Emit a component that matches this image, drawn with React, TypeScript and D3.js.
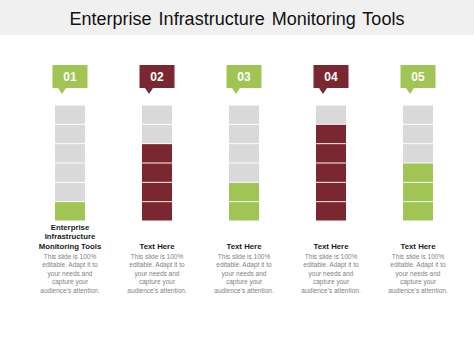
import React from "react";
import * as d3 from "d3";

const TITLE = "Enterprise Infrastructure Monitoring Tools";
const categories = ["01", "02", "03", "04", "05"];
const filledSegments = [1, 4, 2, 5, 3];
const totalSegments = 6;
const colorKeys = ["green", "maroon", "green", "maroon", "green"];
const headings = [
  ["Enterprise", "Infrastructure", "Monitoring Tools"],
  ["Text Here"],
  ["Text Here"],
  ["Text Here"],
  ["Text Here"],
];
const bodyLines = [
  "This slide is 100%",
  "editable.  Adapt it to",
  "your needs and",
  "capture your",
  "audience's attention.",
];

const palette: Record<string, string> = {
  green: "#a0c555",
  maroon: "#7a2731",
};
const EMPTY = "#d9d9d9";
const FONT = "'Liberation Sans', Arial, Helvetica, sans-serif";

const W = 474;
const H = 355;

export default function App() {
  const x = d3.scalePoint<string>().domain(categories).range([70, 418]);
  const segIdx = d3.range(totalSegments);
  const y = d3
    .scaleBand<number>()
    .domain(segIdx)
    .range([220.5, 105.5])
    .paddingInner(0.05);
  const barW = 30;
  const boxW = 35;
  const boxH = 23;
  const boxTop = 65;

  const headLast = 249;
  const headStep = 9.6;
  const bodyGap = 10;
  const bodyStep = 8.4;

  return (
    <svg
      width={W}
      height={H}
      style={{ position: "absolute", left: 0, top: 0, background: "#ffffff" }}
      fontFamily={FONT}
    >
      <rect x={0} y={0} width={W} height={35} fill="#f0f0f0" />
      <text
        x={W / 2}
        y={25}
        textAnchor="middle"
        fontSize={18}
        fill="#111111"
        wordSpacing={2}
      >
        {TITLE}
      </text>

      {categories.map((c, i) => {
        const cx = x(c) as number;
        const col = palette[colorKeys[i]];
        const heads = headings[i];
        return (
          <g key={c}>
            {/* label box */}
            <rect
              x={cx - boxW / 2}
              y={boxTop}
              width={boxW}
              height={boxH}
              fill={col}
            />
            <path
              d={`M${cx - 12},${boxTop + boxH} L${cx - 4},${boxTop + boxH} L${cx - 8},${boxTop + boxH + 6} Z`}
              fill={col}
            />
            <text
              x={cx}
              y={boxTop + boxH / 2 + 4.3}
              textAnchor="middle"
              fontSize={12}
              fontWeight="bold"
              fill="#ffffff"
            >
              {c}
            </text>

            {/* segments */}
            {segIdx.map((s) => (
              <rect
                key={s}
                x={cx - barW / 2}
                y={y(s) as number}
                width={barW}
                height={y.bandwidth()}
                fill={s < filledSegments[i] ? col : EMPTY}
              />
            ))}

            {/* heading */}
            {heads.map((h, k) => (
              <text
                key={k}
                x={cx}
                y={headLast - (heads.length - 1 - k) * headStep}
                textAnchor="middle"
                fontSize={7.8}
                fontWeight="bold"
                fill="#1a1a1a"
              >
                {h}
              </text>
            ))}
            {bodyLines.map((b, k) => (
              <text
                key={k}
                x={cx}
                y={headLast + bodyGap + k * bodyStep}
                textAnchor="middle"
                fontSize={6.5}
                fill="#7f7f7f"
              >
                {b}
              </text>
            ))}
          </g>
        );
      })}
    </svg>
  );
}
